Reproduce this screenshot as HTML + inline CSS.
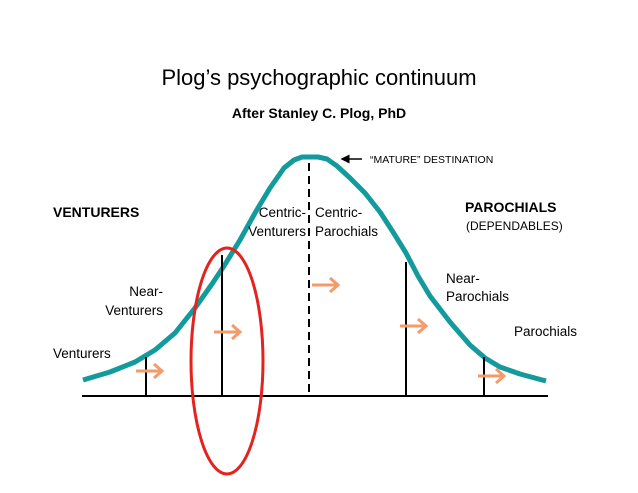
<!DOCTYPE html>
<html><head><meta charset="utf-8"><style>
body{margin:0;background:#fff;}
svg{display:block;font-family:"Liberation Sans",Arial,sans-serif;}
</style></head><body>
<svg width="638" height="493" viewBox="0 0 638 493">
<defs><marker id="ah" markerWidth="6" markerHeight="6" refX="5" refY="3" orient="auto"><path d="M0,0L6,3L0,6z" fill="#000"/></marker></defs>
<text x="319" y="85" font-size="22" text-anchor="middle" fill="#000">Plog’s psychographic continuum</text>
<text x="319" y="118" font-size="14" font-weight="bold" text-anchor="middle" fill="#000">After Stanley C. Plog, PhD</text>
<line x1="82" y1="396" x2="548" y2="396" stroke="#000" stroke-width="2"/>
<polyline points="83,380 110,372 135,362 155,350 175,333 195,308 212,284 224,266 240,240 255,213 270,188 284,168 294,160 302,157 318,157 327,159 337,166 350,178 365,193 380,212 393,232 406,253 418,276 430,296 450,322 470,345 485,358 500,367 520,374 546,381" fill="none" stroke="#139a9c" stroke-width="5" stroke-linejoin="round" stroke-linecap="butt"/>
<g stroke="#000" stroke-width="2">
<line x1="146" y1="357" x2="146" y2="396"/>
<line x1="222" y1="255" x2="222" y2="396"/>
<line x1="406" y1="262" x2="406" y2="396"/>
<line x1="484" y1="357" x2="484" y2="396"/>
<line x1="309" y1="163" x2="309" y2="396" stroke-dasharray="8,5"/>
</g>
<ellipse cx="227" cy="361" rx="36" ry="113" fill="none" stroke="#e3231f" stroke-width="3"/>
<g stroke="#f59a6a" stroke-width="3" fill="none">
<path d="M136,371H161M154,364L162,371L154,378"/>
<path d="M214,332H239M232,325L240,332L232,339"/>
<path d="M312,285H337M330,278L338,285L330,292"/>
<path d="M400,326H425M418,319L426,326L418,333"/>
<path d="M478,376H503M496,369L504,376L496,383"/>
</g>
<line x1="362" y1="159" x2="342" y2="159" stroke="#000" stroke-width="1.5" marker-end="url(#ah)"/>
<text x="370" y="163" font-size="10.5">“MATURE”  DESTINATION</text>
<text x="53" y="217" font-size="14" font-weight="bold">VENTURERS</text>
<text x="465" y="212" font-size="14" font-weight="bold">PAROCHIALS</text>
<text x="466" y="230" font-size="12">(DEPENDABLES)</text>
<g font-size="13.5">
<text x="306" y="217" text-anchor="end">Centric-</text>
<text x="306" y="236" text-anchor="end">Venturers</text>
<text x="315" y="217">Centric-</text>
<text x="315" y="236">Parochials</text>
<text x="163" y="296" text-anchor="end">Near-</text>
<text x="163" y="315" text-anchor="end">Venturers</text>
<text x="53" y="358">Venturers</text>
<text x="446" y="283">Near-</text>
<text x="446" y="301">Parochials</text>
<text x="514" y="336">Parochials</text>
</g>
</svg>
</body></html>
